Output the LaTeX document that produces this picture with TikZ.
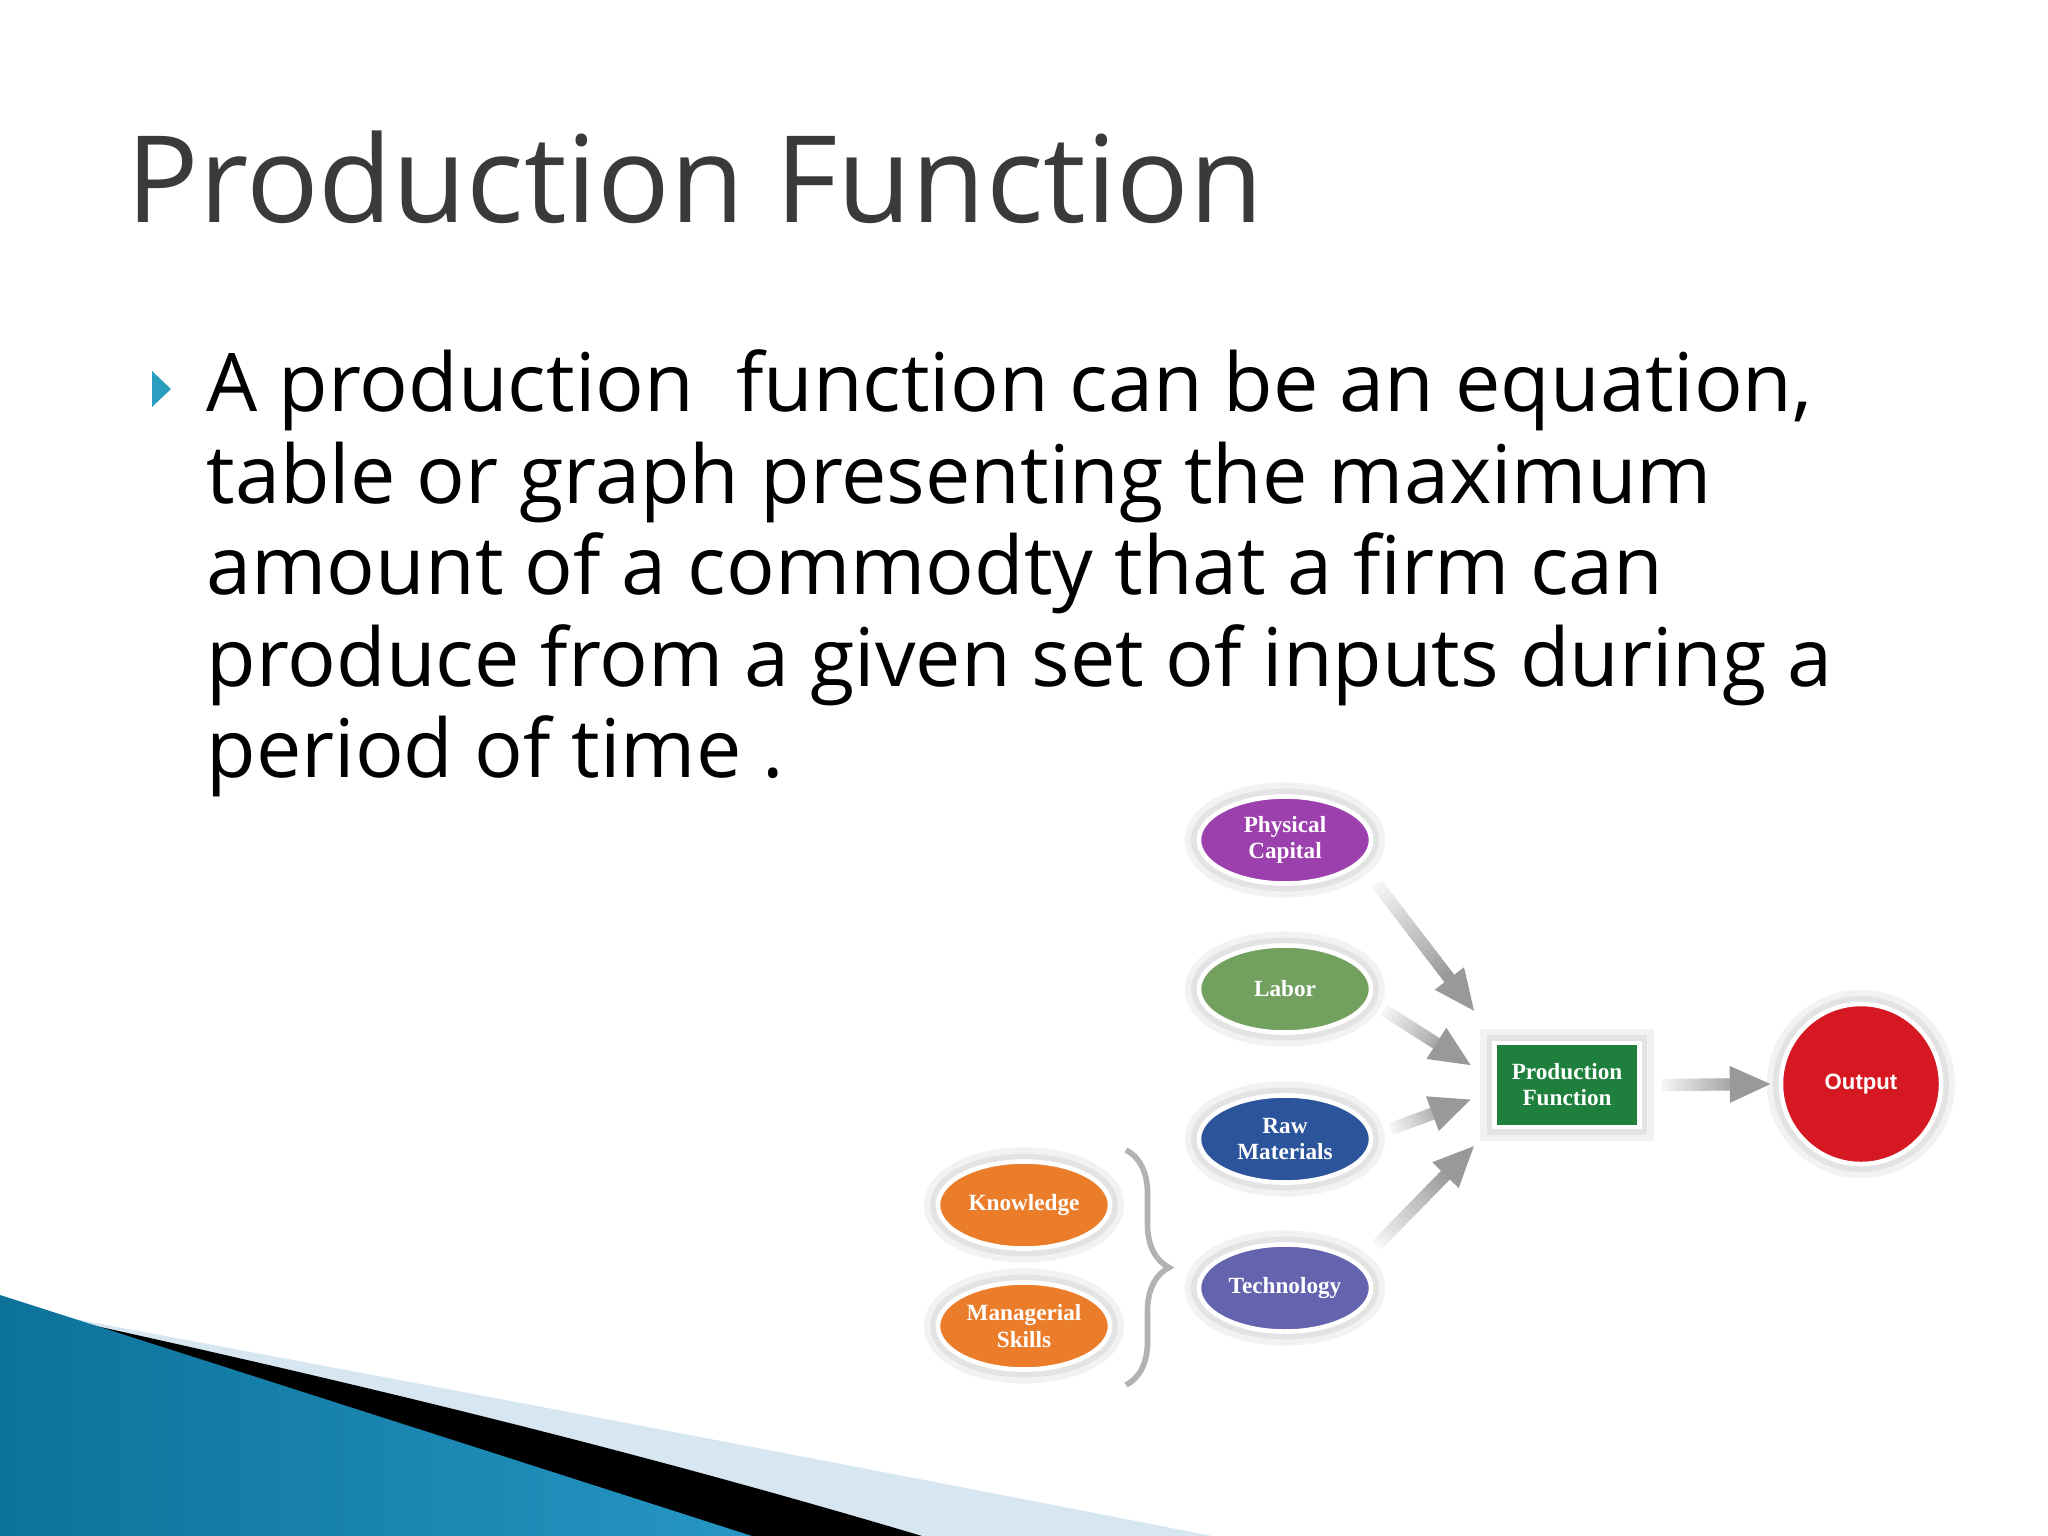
\documentclass[tikz,border=0pt]{standalone}
\usepackage{fontspec}
\setmainfont{Open Sans}
\newfontfamily\serifb{Liberation Serif}
\newfontfamily\sansb{Liberation Sans}
\usetikzlibrary{calc,arrows.meta,decorations.pathreplacing,shapes.geometric}
\definecolor{titlegray}{RGB}{58,58,58}
\definecolor{bulletteal}{RGB}{42,158,190}
\definecolor{cpurple}{RGB}{155,64,172}
\definecolor{cgreen}{RGB}{114,160,94}
\definecolor{cblue}{RGB}{44,84,154}
\definecolor{cslate}{RGB}{100,100,174}
\definecolor{corange}{RGB}{234,124,42}
\definecolor{cbox}{RGB}{30,128,60}
\definecolor{cred}{RGB}{214,24,34}
\definecolor{paleband}{RGB}{214,231,241}
\definecolor{tealdark}{RGB}{12,114,154}
\definecolor{teallight}{RGB}{80,182,222}
\definecolor{tealmid}{RGB}{38,150,196}
\newcommand{\garrow}[2]{%
  \foreach \k in {0,...,19}{%
    \pgfmathsetmacro\cc{4+1.9*\k}%
    \draw[black!\cc, line width=3.5pt] ($(#1)!{\k/20*0.74}!(#2)$) -- ($(#1)!{(\k+1)/20*0.74+0.006}!(#2)$);
  }%
  \draw[black!40, line width=3.5pt, -{Triangle[length=12pt,width=9.5pt]}] ($(#1)!0.73!(#2)$) -- (#2);
}
\begin{document}
\begin{tikzpicture}[x=0.01cm,y=-0.01cm,
  body/.style={anchor=base west, inner sep=0pt, font=\fontsize{23}{27}\selectfont, text=black},
  glow/.style={preaction={draw=black!5, line width=8pt}, preaction={draw=black!11, line width=4.5pt}},
  inp/.style={ellipse, minimum width=1.72cm, minimum height=0.87cm, inner sep=0pt,
    draw=white, line width=1.3pt, text=white, align=center,
    font=\serifb\bfseries\fontsize{6.6}{7.6}\selectfont, glow},
  pfbox/.style={rectangle, minimum width=1.45cm, minimum height=0.84cm, inner sep=0pt,
    fill=cbox, draw=white, line width=1.2pt, text=white, align=center,
    font=\serifb\bfseries\fontsize{6.6}{7.4}\selectfont, glow},
  outc/.style={circle, minimum size=1.6cm, inner sep=0pt, fill=cred, draw=white, line width=1.3pt,
    text=white, font=\sansb\bfseries\fontsize{6.3}{7.5}\selectfont, glow}
]
\useasboundingbox (0,0) rectangle (2048,1536);
\fill[white] (0,0) rectangle (2048,1536);

% bottom-left swoosh
\fill[paleband] (0,1305) .. controls (400,1380) and (800,1455) .. (1212,1536) -- (0,1536) -- cycle;
\fill[black] (0,1305) .. controls (300,1370) and (600,1440) .. (922,1536) -- (0,1536) -- cycle;
\shade[left color=tealdark, middle color=teallight, right color=tealmid]
  (0,1295) .. controls (250,1375) and (500,1455) .. (752,1536) -- (0,1536) -- cycle;

% title and text
\node[anchor=base west, inner sep=0pt, font=\fontsize{34.3}{40}\selectfont, text=titlegray] (title) at (126,222) {Production Function};
\fill[bulletteal] (152,371) -- (171,389) -- (152,407) -- cycle;
\node[body] (l1) at (206,411) {A production\ \ function can be an equation,};
\node[body] (l2) at (206,503) {table or graph presenting the maximum};
\node[body] (l3) at (206,594) {amount of a commodty that a firm can};
\node[body] (l4) at (206,686) {produce from a given set of inputs during a};
\node[body] (l5) at (206,777) {period of time .};

% diagram nodes
\node[inp, fill=cpurple] (pc) at (1285,840) {Physical\\Capital};
\node[inp, fill=cgreen] (lab) at (1285,989) {Labor};
\node[inp, fill=cblue] (raw) at (1285,1139) {Raw\\Materials};
\node[inp, fill=cslate] (tech) at (1285,1288) {Technology};
\node[inp, fill=corange] (know) at (1024,1205) {Knowledge};
\node[inp, fill=corange] (mgr) at (1024,1326) {Managerial\\Skills};
\node[pfbox] (pf) at (1567,1085) {Production\\Function};
\node[outc] (out) at (1861,1084) {Output};

% arrow end points
\coordinate (a1s) at ($(pc)+(92,44)$);
\coordinate (a1e) at ($(pf)+(-92,-73)$);
\coordinate (a2s) at ($(lab)+(99,21)$);
\coordinate (a2e) at ($(pf)+(-95,-19)$);
\coordinate (a3s) at ($(raw)+(106,-10)$);
\coordinate (a3e) at ($(pf)+(-95,14)$);
\coordinate (a4s) at ($(tech)+(92,-43)$);
\coordinate (a4e) at ($(pf)+(-92,60)$);
\coordinate (a5s) at ($(pf)+(95,0)$);
\coordinate (a5e) at ($(out)+(-89,0)$);
\garrow{a1s}{a1e}
\garrow{a2s}{a2e}
\garrow{a3s}{a3e}
\garrow{a4s}{a4e}
\garrow{a5s}{a5e}

% brace
\coordinate (bt) at ($(tech)+(-159,-138)$);
\coordinate (bb) at ($(tech)+(-159,97)$);
\draw[black!30, line width=1.6pt, decorate, decoration={brace, amplitude=0.43cm}] (bt) -- (bb);
\end{tikzpicture}
\end{document}
